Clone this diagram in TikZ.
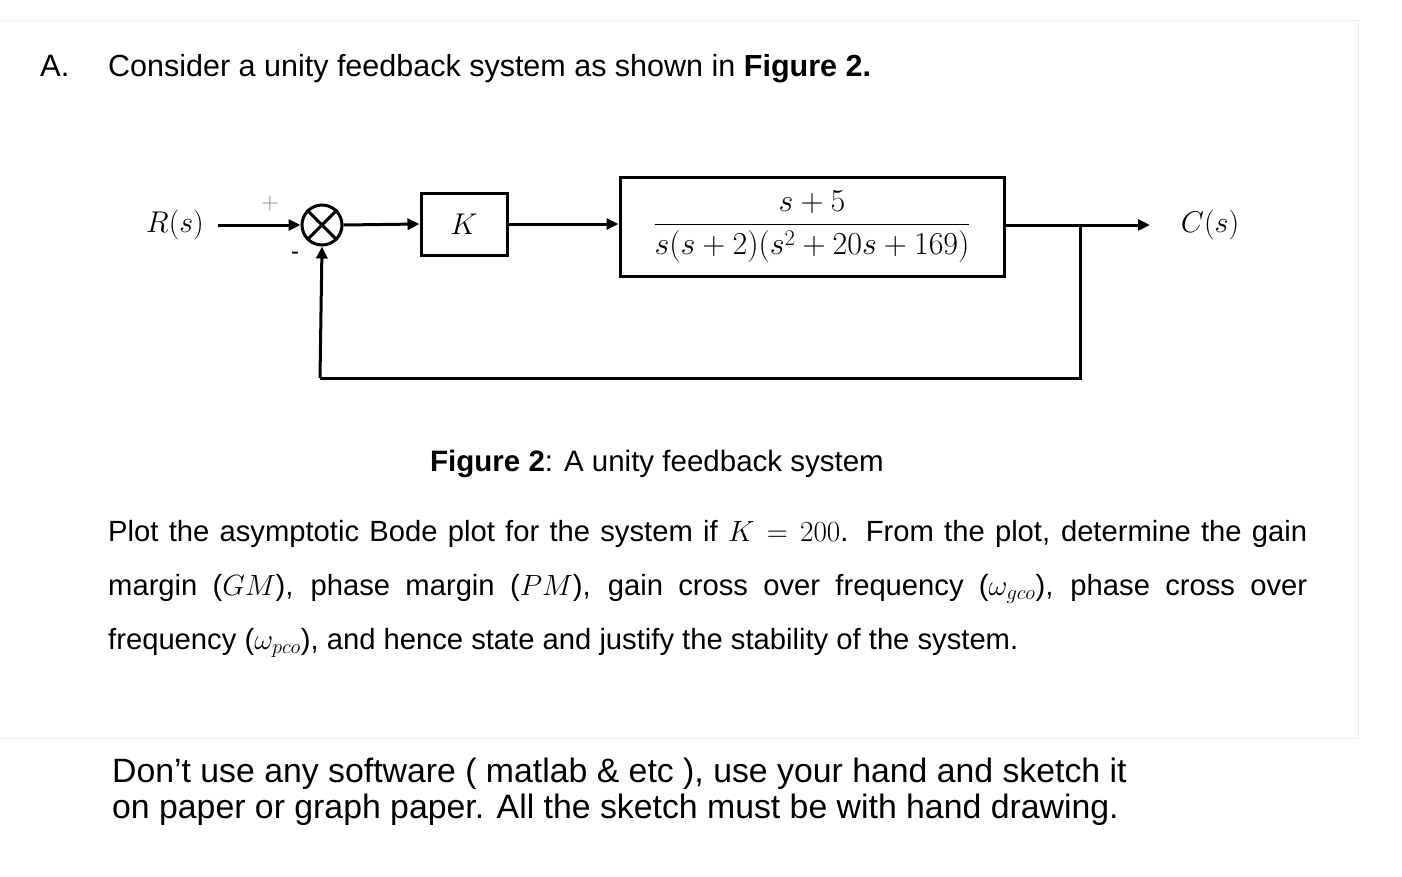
\RequirePackage{fix-cm}
\documentclass[tikz,border=0pt]{standalone}
\usepackage{fontspec}
\setmainfont{Liberation Sans}
\usetikzlibrary{arrows.meta}
\begin{document}
\begin{tikzpicture}[x=1pt,y=-1pt,
  sig/.style={line width=3pt,-{Triangle[length=12pt,width=11pt]}},
  wire/.style={line width=3pt},
  blk/.style={draw,line width=3pt,inner sep=0pt},
  txt/.style={inner sep=0pt,anchor=base west}]
\useasboundingbox (0,0) rectangle (1402,876);
\draw[gray!15,line width=1pt] (-2,20) rectangle (1358,738);
\node[txt,font=\fontsize{31}{34}\selectfont] (A) at (40,76) {A.};
\node[txt,font=\fontsize{30.5}{34}\selectfont] (t1) at (108,76) {Consider a unity feedback system as shown in \textbf{Figure 2.}};
% block diagram
\node[font=\fontsize{30}{34}\selectfont] (R) at (175,225) {$R(s)$};
\node[draw,circle,line width=3pt,minimum size=40pt,inner sep=0pt] (S) at (322,225) {};
\draw[line width=3pt] (S.north west) -- (S.south east) (S.north east) -- (S.south west);
\node[font=\fontsize{24}{24}\selectfont,text=gray] (p) at (270,203) {$+$};
\node[font=\fontsize{24}{24}\selectfont] (m) at (295,256) {-};
\node[blk,minimum width=86pt,minimum height=62pt,font=\fontsize{30}{30}\selectfont] (K) at (464,224) {$K$};
\node[blk,minimum width=384pt,minimum height=99pt,font=\fontsize{32}{36}\selectfont] (G) at (812,226.5) {$\displaystyle\frac{s+5}{s(s+2)(s^2+20s+169)}$};
\node[font=\fontsize{30}{34}\selectfont] (C) at (1210,225) {$C(s)$};
\coordinate (Rin) at (218,225);
\coordinate (Cout) at (1150,225);
\coordinate (B) at (1080,225);
\coordinate (B1) at (1080,378);
\coordinate (B2) at (320,378);
\draw[sig] (Rin) -- (S.west);
\draw[sig] (S.east) -- (K.west);
\draw[sig] (K.east) -- (K.east -| G.west);
\draw[sig] (G.east |- Cout) -- (Cout);
\draw[wire] (B) -- (B1) -- (B2);
\draw[sig] (B2) -- (S.south);
% caption
\node[font=\fontsize{29.5}{34}\selectfont] (cap) at (657,464) {\textbf{Figure 2}: A unity feedback system};
\node[anchor=north west,inner sep=0pt,text width=1199pt,align=justify,font=\fontsize{29.2}{54}\selectfont] (par) at (108,520)
{\hyphenpenalty=10000 Plot the asymptotic Bode plot for the system if $K=200$. From the plot, determine the gain\linebreak margin ($GM$), phase margin ($PM$), gain cross over frequency ($\omega_{gco}$), phase cross over\linebreak frequency ($\omega_{pco}$), and hence state and justify the stability of the system.};
\node[txt,font=\fontsize{33.8}{36}\selectfont] (n1) at (112,782) {Don’t use any software ( matlab \& etc ), use your hand and sketch it};
\node[txt,font=\fontsize{33.8}{36}\selectfont] (n2) at (112,818) {on paper or graph paper. All the sketch must be with hand drawing.};
\end{tikzpicture}
\end{document}
